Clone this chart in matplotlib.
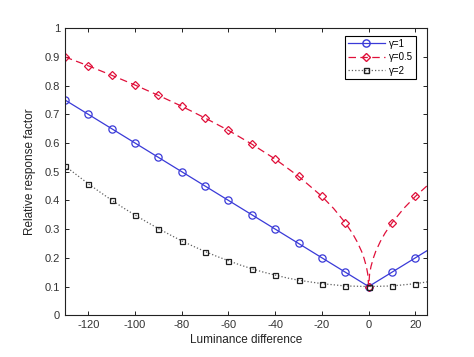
import matplotlib
matplotlib.use("Agg")
import matplotlib.pyplot as plt

# marker positions
x_mark = [-130, -120, -110, -100, -90, -80, -70, -60, -50, -40, -30, -20, -10, 0, 10, 20]
blue_mark = [0.75, 0.70, 0.65, 0.60, 0.55, 0.50, 0.45, 0.40, 0.35, 0.30, 0.25, 0.20, 0.15, 0.10, 0.15, 0.20]
red_mark = [0.900, 0.869, 0.836, 0.802, 0.766, 0.728, 0.687, 0.644, 0.596, 0.544, 0.484, 0.414, 0.322, 0.100, 0.322, 0.414]
black_mark = [0.52, 0.458, 0.401, 0.349, 0.302, 0.259, 0.222, 0.190, 0.162, 0.140, 0.122, 0.110, 0.102, 0.100, 0.102, 0.110]

# line points
x_blue_line = [-130, 0, 25]
blue_line = [0.75, 0.10, 0.225]
x_red_line = [-130, -120, -110, -100, -90, -80, -70, -60, -50, -40, -30, -20, -15, -10, -7, -5, -3, -2, -1, -0.4, 0,
              0.4, 1, 2, 3, 5, 7, 10, 15, 20, 25]
red_line = [0.900, 0.869, 0.836, 0.802, 0.766, 0.728, 0.687, 0.644, 0.596, 0.544, 0.484, 0.414, 0.372, 0.322, 0.286,
            0.257, 0.222, 0.199, 0.170, 0.144, 0.100,
            0.144, 0.170, 0.199, 0.222, 0.257, 0.286, 0.322, 0.372, 0.414, 0.451]
x_black_line = [-130, -125, -120, -115, -110, -105, -100, -95, -90, -85, -80, -75, -70, -65, -60, -55, -50, -45, -40,
                -35, -30, -25, -20, -15, -10, -5, 0, 5, 10, 15, 20, 25]
black_line = [0.520, 0.489, 0.458, 0.429, 0.401, 0.374, 0.349, 0.325, 0.302, 0.280, 0.259, 0.240, 0.222, 0.205,
              0.190, 0.175, 0.162, 0.150, 0.140, 0.130, 0.122, 0.116, 0.110, 0.106, 0.102, 0.101, 0.100, 0.101,
              0.102, 0.106, 0.110, 0.116]

labels = ["γ=1", "γ=0.5", "γ=2"]
x_ticks = [-120, -100, -80, -60, -40, -20, 0, 20]
y_ticks = [0, 0.1, 0.2, 0.3, 0.4, 0.5, 0.6, 0.7, 0.8, 0.9, 1]

plt.rcParams['font.family'] = ['Liberation Sans', 'DejaVu Sans']
plt.rcParams['axes.unicode_minus'] = False

fig = plt.figure(figsize=(4.74, 3.57), dpi=100)
ax = fig.add_axes([0.137, 0.117, 0.764, 0.804])

blue = '#3a3ad8'
red = '#e0103a'
ax.plot(x_blue_line, blue_line, '-', color=blue, lw=0.9)
ax.plot(x_mark, blue_mark, 'o', color=blue, mfc='none', ms=5.2, mew=0.9)
ax.plot(x_red_line, red_line, '--', color=red, lw=0.9, dashes=(6, 3.5))
ax.plot(x_mark, red_mark, 'D', color=red, mfc='none', ms=4.3, mew=0.9)
ax.plot(x_black_line, black_line, ':', color='#606060', lw=0.9)
ax.plot(x_mark, black_mark, 's', color='#202020', mfc='none', ms=3.6, mew=0.9)

from matplotlib.lines import Line2D
handles = [
    Line2D([], [], color=blue, ls='-', lw=0.9, marker='o', mfc='none', ms=5.2),
    Line2D([], [], color=red, ls='--', lw=0.9, marker='D', mfc='none', ms=4.3, dashes=(6, 3.5)),
    Line2D([], [], color='#606060', ls=':', lw=0.9, marker='s', mfc='none', mec='#202020', ms=3.6),
]
leg = ax.legend(handles, labels, loc='upper right', bbox_to_anchor=(0.982, 0.99), fontsize=7,
                frameon=True, fancybox=False, edgecolor='black', framealpha=1, handlelength=3.8,
                borderpad=0.3, labelspacing=0.35, handletextpad=0.4)
leg.get_frame().set_linewidth(0.8)

ax.set_xlim(-130, 25)
ax.set_ylim(0, 1)
ax.set_xticks(x_ticks)
ax.set_yticks(y_ticks)
ax.set_yticklabels(['0', '0.1', '0.2', '0.3', '0.4', '0.5', '0.6', '0.7', '0.8', '0.9', '1'])
ax.tick_params(direction='in', top=True, right=True, labelsize=8, length=3, width=0.7,
               colors='#222222', labelcolor='#333333')
for s in ax.spines.values():
    s.set_linewidth(0.8)
    s.set_color('#222222')
ax.set_xlabel('Luminance difference', fontsize=8.5, color='#222222', labelpad=3)
ax.set_ylabel('Relative response factor', fontsize=8.5, color='#222222', labelpad=6)

fig.savefig('out.png', dpi=100)
